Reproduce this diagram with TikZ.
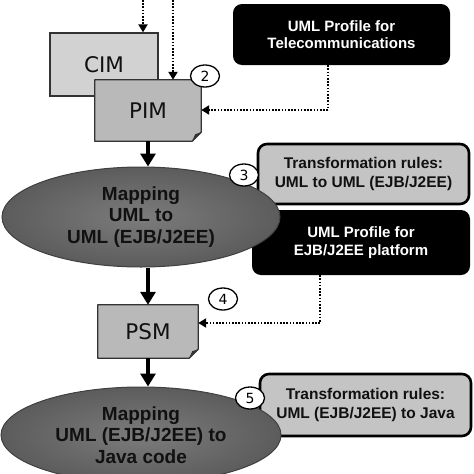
\documentclass[tikz,border=0pt]{standalone}
\usepackage{fontspec}
\setmainfont{Liberation Sans}
\newfontfamily\dvsans{DejaVu Sans}
\usetikzlibrary{arrows.meta,shapes.geometric}
\definecolor{cimfill}{HTML}{D2D2D2}
\definecolor{pimfill}{HTML}{B9B9B9}
\definecolor{trfill}{HTML}{C4C4C4}
\definecolor{ellout}{HTML}{5C5C5C}
\definecolor{ellin}{HTML}{7C7C7C}
\definecolor{txtdark}{HTML}{111111}
\tikzset{
  modelbox/.style={draw=black!80, line width=1.3pt, minimum width=#1, inner sep=0pt, font=\dvsans\fontsize{21.5}{24}\selectfont, text=txtdark},
  blackbox/.style={fill=black, rounded corners=9pt, inner sep=0pt, text=white, align=center, font=\bfseries\fontsize{15}{17.5}\selectfont},
  rulebox/.style={draw=black, line width=2.6pt, fill=trfill, rounded corners=9pt, inner sep=0pt, text=txtdark, align=center, font=\bfseries\fontsize{15.5}{18.5}\selectfont},
  mapell/.style={ellipse, draw=black!75, line width=1pt, inner sep=0pt, outer color=ellout, inner color=ellin, text=txtdark, align=center, font=\bfseries\fontsize{19}{21.5}\selectfont},
  numcirc/.style={ellipse, draw=black, line width=1.3pt, fill=white, inner sep=0pt, minimum width=29pt, minimum height=22pt, font=\dvsans\fontsize{14}{14}\selectfont},
  dotarrow/.style={line width=2.2pt, dash pattern=on 1.6pt off 1.6pt, -{Triangle[width=9pt,length=8pt]}},
  dotline/.style={line width=2.2pt, dash pattern=on 1.6pt off 1.6pt},
  thickarrow/.style={line width=3.2pt, -{Triangle[width=15pt,length=13pt]}},
}
\begin{document}
\begin{tikzpicture}[x=1pt,y=-1pt]
\useasboundingbox (0,0) rectangle (474,474);
\clip (0,0) rectangle (474,474);
% right-hand boxes
\node[blackbox, minimum width=217pt, minimum height=61pt] (prof1) at (341.5,34.5) {UML Profile for\\Telecommunications};
\node[rulebox, minimum width=211pt, minimum height=60pt] (rules1) at (363.5,174) {Transformation rules:\\UML to UML (EJB/J2EE)};
\node[blackbox, minimum width=218pt, minimum height=65pt] (prof2) at (361,242.5) {UML Profile for\\EJB/J2EE platform};
\node[rulebox, minimum width=211pt, minimum height=62pt] (rules2) at (365.5,405) {Transformation rules:\\UML (EJB/J2EE) to Java};
% models
\node[modelbox=108pt, minimum height=63pt, fill=cimfill] (cim) at (104,64.5) {CIM};
\node[minimum width=106pt, minimum height=61pt, inner sep=0pt] (pim) at (148,110.5) {};
\fill[pimfill] (pim.north west) -- (pim.north east) -- ([yshift=9pt]pim.south east) -- ([xshift=-9pt]pim.south east) -- (pim.south west) -- cycle;
\draw[black!80, line width=1.3pt, line join=round] (pim.north west) -- (pim.north east) -- ([yshift=9pt]pim.south east) -- ([xshift=-9pt]pim.south east) -- (pim.south west) -- cycle;
\fill[black!80] ([yshift=9pt]pim.south east) -- ([xshift=-9pt]pim.south east) -- ([xshift=-6pt,yshift=7pt]pim.south east) -- cycle;
\node[font=\dvsans\fontsize{21.5}{24}\selectfont, text=txtdark] at (pim.center) {PIM};
\node[minimum width=100pt, minimum height=53pt, inner sep=0pt] (psm) at (148,331.5) {};
\fill[pimfill] (psm.north west) -- (psm.north east) -- ([yshift=9pt]psm.south east) -- ([xshift=-9pt]psm.south east) -- (psm.south west) -- cycle;
\draw[black!80, line width=1.3pt, line join=round] (psm.north west) -- (psm.north east) -- ([yshift=9pt]psm.south east) -- ([xshift=-9pt]psm.south east) -- (psm.south west) -- cycle;
\fill[black!80] ([yshift=9pt]psm.south east) -- ([xshift=-9pt]psm.south east) -- ([xshift=-6pt,yshift=7pt]psm.south east) -- cycle;
\node[font=\dvsans\fontsize{21.5}{24}\selectfont, text=txtdark] at (psm.center) {PSM};
% mapping ellipses
\node[mapell, minimum width=278pt, minimum height=100pt] (map1) at (141,217) {Mapping\\UML to\\UML (EJB/J2EE)};
\node[mapell, minimum width=280pt, minimum height=96pt] (map2) at (141,435) {Mapping\\UML (EJB/J2EE) to\\Java code};
% numbers
\node[numcirc] (n2) at (205,76) {2};
\node[numcirc] (n3) at (244,175) {3};
\node[numcirc] (n4) at (223,299) {4};
\node[numcirc] (n5) at (250,398) {5};
% coordinates
\coordinate (t1) at (143,0);
\coordinate (t2) at (173,0);
\coordinate (c1) at (328,110);
\coordinate (c2) at (320,323);
\coordinate (bot) at (148,480);
% dotted connectors
\draw[dotarrow] (t1) -- (t1 |- cim.north);
\draw[dotarrow] (t2) -- (t2 |- pim.north);
\draw[dotline] (prof1.south -| c1) -- (c1);
\draw[dotarrow] (c1) -- (c1 -| pim.east);
\draw[dotline] (prof2.south -| c2) -- (c2);
\draw[dotarrow] (c2) -- (c2 -| psm.east);
% thick connectors
\draw[thickarrow] (pim.south) -- (pim.south |- map1.north);
\draw[thickarrow] (map1.south -| psm.north) -- (psm.north);
\draw[thickarrow] (psm.south) -- (psm.south |- map2.north);
\draw[line width=3.2pt] (map2.south -| bot) -- (bot);
\end{tikzpicture}
\end{document}
